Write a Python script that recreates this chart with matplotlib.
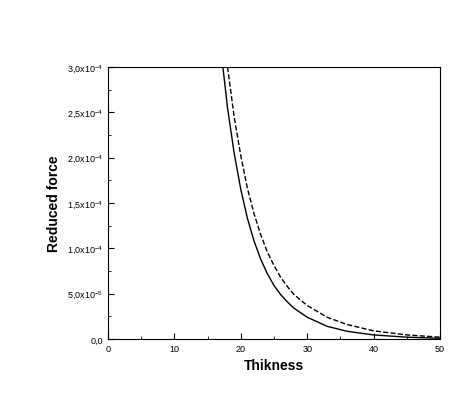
import matplotlib.pyplot as plt
from matplotlib.ticker import FixedLocator, AutoMinorLocator

plt.rcParams['font.family'] = ['Liberation Sans', 'DejaVu Sans']
plt.rcParams['mathtext.fontset'] = 'custom'
plt.rcParams['mathtext.rm'] = 'Liberation Sans'

# curves
thick_solid = [17.3, 18, 19, 20, 21, 22, 23, 24, 25, 26, 27, 28, 30, 33, 36, 40, 45, 50]
force_solid = [3.0e-4, 2.55e-4, 2.05e-4, 1.65e-4, 1.33e-4, 1.08e-4, 0.88e-4, 0.72e-4, 0.59e-4,
               0.49e-4, 0.41e-4, 0.34e-4, 0.24e-4, 0.14e-4, 0.085e-4, 0.045e-4, 0.02e-4, 0.008e-4]
thick_dash = [18.0, 19, 20, 21, 22, 23, 24, 25, 26, 27, 28, 30, 33, 36, 40, 45, 50]
force_dash = [3.0e-4, 2.45e-4, 2.02e-4, 1.66e-4, 1.38e-4, 1.15e-4, 0.96e-4, 0.81e-4,
              0.68e-4, 0.58e-4, 0.49e-4, 0.37e-4, 0.24e-4, 0.16e-4, 0.09e-4, 0.045e-4, 0.02e-4]

yticks = [0, 0.5e-4, 1.0e-4, 1.5e-4, 2.0e-4, 2.5e-4, 3.0e-4]
ylabels = ['0,0', r'5,0x10$^{-5}$', r'1,0x10$^{-4}$', r'1,5x10$^{-4}$',
           r'2,0x10$^{-4}$', r'2,5x10$^{-4}$', r'3,0x10$^{-4}$']

fig = plt.figure(figsize=(4.74, 4.10), dpi=100)
ax = fig.add_axes([108/474, 1-340/410, 332/474, 272/410])
ax.plot(thick_solid, force_solid, 'k-', lw=1)
ax.plot(thick_dash, force_dash, 'k--', lw=1)
ax.set_xlim(0, 50)
ax.set_ylim(0, 3.0e-4)
ax.set_xticks([0, 10, 20, 30, 40, 50])
ax.yaxis.set_major_locator(FixedLocator(yticks))
ax.set_yticklabels(ylabels)
ax.xaxis.set_minor_locator(AutoMinorLocator(2))
ax.yaxis.set_minor_locator(AutoMinorLocator(2))
ax.tick_params(which='both', direction='in', labelsize=6.5)
ax.tick_params(which='major', length=4)
ax.tick_params(which='minor', length=2)
ax.set_xlabel('Thikness', fontsize=10, fontweight='bold')
ax.set_ylabel('Reduced force', fontsize=10, fontweight='bold')
fig.savefig('out.png', dpi=100)
